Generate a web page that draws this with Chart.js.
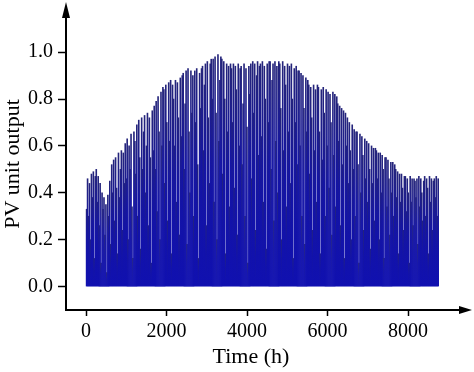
<!DOCTYPE html>
<html>
<head>
<meta charset="utf-8">
<script src="https://cdn.jsdelivr.net/npm/chart.js@4.4.1/dist/chart.umd.min.js"></script>
<style>
  html, body { margin: 0; padding: 0; background: #fff; }
  #wrap { width: 474px; height: 372px; }
</style>
</head>
<body>
<div id="wrap"><canvas id="pv" width="474" height="372"></canvas></div>
<script>
// daily peak of PV unit output (p.u.), one value per day of the year
const dayPeaks = [
  0.33, 0.46, 0.30, 0.44, 0.20, 0.48, 0.38, 0.49, 0.12, 0.47,
  0.50, 0.36, 0.47, 0.26, 0.44, 0.10, 0.40, 0.33, 0.38, 0.22,
  0.35, 0.06, 0.39, 0.30, 0.45, 0.18, 0.52, 0.40, 0.54, 0.28,
  0.55, 0.42, 0.14, 0.57, 0.38, 0.50, 0.58, 0.24, 0.57, 0.44,
  0.61, 0.46, 0.63, 0.20, 0.60, 0.50, 0.65, 0.34, 0.12, 0.66,
  0.62, 0.48, 0.69, 0.30, 0.71, 0.55, 0.16, 0.72, 0.50, 0.66,
  0.73, 0.40, 0.60, 0.74, 0.26, 0.72, 0.55, 0.10, 0.75, 0.58,
  0.77, 0.50, 0.79, 0.32, 0.81, 0.66, 0.20, 0.83, 0.60, 0.85,
  0.84, 0.44, 0.86, 0.70, 0.28, 0.87, 0.62, 0.88, 0.14, 0.86,
  0.80, 0.60, 0.88, 0.36, 0.87, 0.72, 0.22, 0.89, 0.64, 0.90,
  0.91, 0.50, 0.78, 0.92, 0.18, 0.93, 0.66, 0.40, 0.92, 0.74,
  0.90, 0.30, 0.92, 0.70, 0.93, 0.52, 0.12, 0.91, 0.76, 0.93,
  0.94, 0.58, 0.86, 0.95, 0.26, 0.96, 0.72, 0.44, 0.95, 0.97,
  0.80, 0.97, 0.36, 0.98, 0.74, 0.20, 0.99, 0.62, 0.88, 0.98,
  0.97, 0.48, 0.96, 0.80, 0.14, 0.95, 0.66, 0.94, 0.34, 0.95,
  0.93, 0.70, 0.95, 0.42, 0.94, 0.84, 0.22, 0.95, 0.60, 0.93,
  0.94, 0.52, 0.78, 0.95, 0.30, 0.93, 0.68, 0.10, 0.94, 0.82,
  0.95, 0.46, 0.96, 0.74, 0.95, 0.24, 0.90, 0.96, 0.56, 0.94,
  0.95, 0.64, 0.96, 0.36, 0.94, 0.80, 0.16, 0.95, 0.70, 0.96,
  0.96, 0.50, 0.88, 0.95, 0.28, 0.96, 0.62, 0.94, 0.40, 0.96,
  0.95, 0.76, 0.20, 0.96, 0.58, 0.94, 0.86, 0.34, 0.95, 0.66,
  0.94, 0.44, 0.95, 0.80, 0.12, 0.93, 0.70, 0.94, 0.52, 0.92,
  0.92, 0.60, 0.91, 0.30, 0.90, 0.76, 0.18, 0.89, 0.66, 0.88,
  0.86, 0.48, 0.85, 0.72, 0.24, 0.86, 0.58, 0.84, 0.36, 0.86,
  0.85, 0.66, 0.14, 0.84, 0.54, 0.85, 0.74, 0.30, 0.84, 0.60,
  0.83, 0.42, 0.82, 0.70, 0.22, 0.83, 0.56, 0.82, 0.34, 0.81,
  0.78, 0.62, 0.77, 0.26, 0.76, 0.52, 0.75, 0.12, 0.74, 0.60,
  0.72, 0.44, 0.70, 0.58, 0.20, 0.69, 0.50, 0.67, 0.30, 0.66,
  0.66, 0.52, 0.10, 0.65, 0.40, 0.64, 0.56, 0.24, 0.63, 0.46,
  0.62, 0.36, 0.61, 0.50, 0.16, 0.60, 0.44, 0.59, 0.28, 0.59,
  0.58, 0.46, 0.57, 0.20, 0.57, 0.40, 0.56, 0.50, 0.12, 0.55,
  0.55, 0.34, 0.54, 0.46, 0.22, 0.53, 0.40, 0.53, 0.30, 0.52,
  0.50, 0.38, 0.49, 0.14, 0.48, 0.36, 0.48, 0.42, 0.24, 0.47,
  0.47, 0.32, 0.46, 0.40, 0.10, 0.47, 0.36, 0.46, 0.26, 0.46,
  0.45, 0.38, 0.46, 0.18, 0.47, 0.34, 0.46, 0.40, 0.28, 0.45,
  0.47, 0.30, 0.46, 0.42, 0.14, 0.47, 0.36, 0.46, 0.24, 0.45,
  0.46, 0.38, 0.47, 0.30, 0.46
]
const xTicks = [0, 2000, 4000, 6000, 8000]
const yTicks = [0, 0.2, 0.4, 0.6, 0.8, 1.0]
const xTitle = "Time (h)"
const yTitle = "PV unit output"

const FONT = "'Liberation Serif', 'Times New Roman', serif"

// each day sits at its noon hour
const points = dayPeaks.map((v, i) => ({ x: i * 24 + 12, y: v }))

// blue body, darker navy towards each spike's tip
function barFill(c) {
  const area = c.chart.chartArea
  const y = c.chart.scales.y
  if (!area || !y || !c.raw) return "#1212a8"
  const base = y.getPixelForValue(0)
  const top = y.getPixelForValue(c.raw.y)
  if (base - top < 2) return "#1212a8"
  const g = c.chart.ctx.createLinearGradient(0, base, 0, top)
  g.addColorStop(0, "#1010b0")
  g.addColorStop(0.55, "#1414a4")
  g.addColorStop(1, "#24247a")
  return g
}

const axisDecor = {
  id: "axisDecor",
  afterDraw(chart) {
    const { ctx, chartArea } = chart
    ctx.save()
    ctx.fillStyle = "#000"
    // arrow on y axis
    ctx.beginPath()
    ctx.moveTo(chartArea.left, 2)
    ctx.lineTo(chartArea.left - 4, chartArea.top + 1)
    ctx.lineTo(chartArea.left + 4, chartArea.top + 1)
    ctx.closePath()
    ctx.fill()
    // arrow on x axis
    ctx.beginPath()
    ctx.moveTo(472, chartArea.bottom)
    ctx.lineTo(chartArea.right - 1, chartArea.bottom - 4)
    ctx.lineTo(chartArea.right - 1, chartArea.bottom + 4)
    ctx.closePath()
    ctx.fill()
    // axis titles
    ctx.font = "22px " + FONT
    ctx.textAlign = "center"
    ctx.textBaseline = "middle"
    ctx.fillText(xTitle, 251, 357)
    ctx.translate(13, 164)
    ctx.rotate(-Math.PI / 2)
    ctx.fillText(yTitle, 0, 0)
    ctx.restore()
  }
}

new Chart(document.getElementById("pv"), {
  type: "bar",
  data: {
    datasets: [{
      data: points,
      backgroundColor: barFill,
      borderWidth: 0,
      barPercentage: 1,
      categoryPercentage: 1
    }]
  },
  options: {
    responsive: false,
    animation: false,
    layout: { padding: { top: 15, right: 14, left: 0, bottom: 0 } },
    plugins: { legend: { display: false }, tooltip: { enabled: false } },
    scales: {
      x: {
        type: "linear",
        min: -500,
        max: 9290,
        offset: false,
        afterFit(scale) { scale.height = 62 },
        afterBuildTicks(scale) { scale.ticks = xTicks.map(v => ({ value: v })) },
        border: { display: true, color: "#000", width: 2 },
        grid: { offset: false, drawOnChartArea: false, drawTicks: true, tickLength: 6, tickWidth: 1.5, tickColor: "#000" },
        ticks: {
          color: "#000",
          font: { family: FONT, size: 20 },
          padding: 4,
          maxRotation: 0,
          callback: v => String(v)
        }
      },
      y: {
        min: -0.1,
        max: 1.15,
        afterFit(scale) { scale.width = 66 },
        afterBuildTicks(scale) { scale.ticks = yTicks.map(v => ({ value: v })) },
        border: { display: true, color: "#000", width: 2 },
        grid: { drawOnChartArea: false, drawTicks: true, tickLength: 8, tickWidth: 1.5, tickColor: "#000" },
        ticks: {
          color: "#000",
          font: { family: FONT, size: 20 },
          padding: 5,
          callback: v => v.toFixed(1)
        }
      }
    }
  },
  plugins: [axisDecor]
})
</script>
</body>
</html>
